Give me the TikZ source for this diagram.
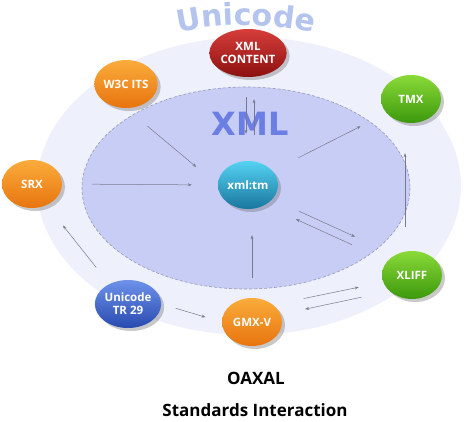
\documentclass[tikz,border=0pt]{standalone}
\usepackage{fontspec}
\setmainfont{Open Sans}
\newfontfamily\heavyfont{DejaVu Sans}
\usetikzlibrary{shapes.geometric}
\usetikzlibrary{arrows.meta}
\usetikzlibrary{shadows}
\usetikzlibrary{decorations.text}
\definecolor{outerbg}{RGB}{238,240,252}
\definecolor{innerbg}{RGB}{200,205,246}
\definecolor{innerline}{RGB}{150,152,180}
\definecolor{unitext}{RGB}{180,196,238}
\definecolor{xmltext}{RGB}{106,126,228}
\definecolor{arrgray}{RGB}{120,122,140}
\begin{document}
\begin{tikzpicture}[x=1pt,y=-1pt,
  std/.style={ellipse,minimum width=60pt,minimum height=48pt,inner sep=0pt,align=center,text=white,
    font=\bfseries\fontsize{11.5}{13}\selectfont,
    drop shadow={shadow xshift=3pt,shadow yshift=-3pt,fill=black!60,opacity=0.35}},
  orangenode/.style={std,top color={rgb,255:red,250;green,172;blue,60},bottom color={rgb,255:red,232;green,116;blue,14}},
  rednode/.style={std,top color={rgb,255:red,214;green,62;blue,58},bottom color={rgb,255:red,140;green,16;blue,16}},
  greennode/.style={std,top color={rgb,255:red,138;green,218;blue,56},bottom color={rgb,255:red,60;green,152;blue,12}},
  cyannode/.style={std,top color={rgb,255:red,84;green,210;blue,242},bottom color={rgb,255:red,26;green,118;blue,158}},
  bluenode/.style={std,top color={rgb,255:red,110;green,146;blue,234},bottom color={rgb,255:red,40;green,74;blue,176}},
  arr/.style={draw=arrgray,line width=0.5pt,-{Stealth[length=4pt,width=3pt]}}]
\useasboundingbox (0,0) rectangle (468,421);
\fill[white] (0,0) rectangle (468,421);
\fill[outerbg] (249,186) ellipse (212 and 149);
\filldraw[fill=innerbg,draw=innerline,line width=0.6pt,dash pattern=on 3pt off 2pt] (246,188) ellipse (164 and 101);
\path[decorate,decoration={text along path,text align=center,text color=unitext,
  text={|\heavyfont\bfseries\fontsize{30}{30}\selectfont|Unicode}}] (168,35) .. controls (215,22) and (277,22) .. (324,36);
\node[text=xmltext,font=\heavyfont\bfseries\fontsize{32}{32}\selectfont] (xmllabel) at (250,124) {XML};

\node[rednode] (content) at (248,53) {XML\\CONTENT};
\node[orangenode] (w3c) at (126,84) {W3C ITS};
\node[greennode] (tmx) at (411,99) {TMX};
\node[orangenode] (srx) at (32,184) {SRX};
\node[cyannode] (xmltm) at (248,185) {xml:tm};
\node[greennode] (xliff) at (412,275) {XLIFF};
\node[bluenode] (tr29) at (128,304) {Unicode\\TR 29};
\node[orangenode] (gmxv) at (252,322) {GMX-V};

\node[font=\bfseries\fontsize{17}{20}\selectfont] (title) at (256,378) {OAXAL};
\node[font=\bfseries\fontsize{17}{20}\selectfont] (subtitle) at (255,410) {Standards Interaction};

\draw[arr,shorten <=28pt,shorten >=28pt] (w3c.south) -- (xmltm.west);
\draw[arr,shorten <=30pt,shorten >=26pt] (srx.east) -- (xmltm.west);
\draw[arr,shorten <=29pt,shorten >=29pt] (xmltm.30) -- (tmx.210);
\draw[arr,shorten <=20pt,shorten >=27pt] ([xshift=-2pt]content.south) -- ([xshift=-2pt]xmltm.north);
\draw[arr,shorten <=26pt,shorten >=22pt] ([xshift=6pt]xmltm.north) -- ([xshift=6pt]content.south);
\draw[arr,shorten <=29pt,shorten >=44pt] (xmltm.-30) -- (xliff.130);
\draw[arr,shorten <=39pt,shorten >=34pt] (xliff.150) -- (xmltm.-50);
\draw[arr,shorten <=24pt,shorten >=30pt] ([xshift=-7pt]xliff.north) -- ([xshift=-6pt]tmx.south);
\draw[arr,shorten <=21pt,shorten >=26pt] (tr29.133) -- (srx.-55);
\draw[arr,shorten <=15pt,shorten >=17pt] (tr29.east) -- (gmxv.west);
\draw[arr,shorten <=20pt,shorten >=26pt] (gmxv.north) -- (gmxv.north |- xmltm.south);
\draw[arr,shorten <=31pt,shorten >=25pt] (gmxv.39) -- (xliff.-166);
\draw[arr,shorten <=29pt,shorten >=25pt] (xliff.-144) -- (gmxv.15);
\end{tikzpicture}
\end{document}
